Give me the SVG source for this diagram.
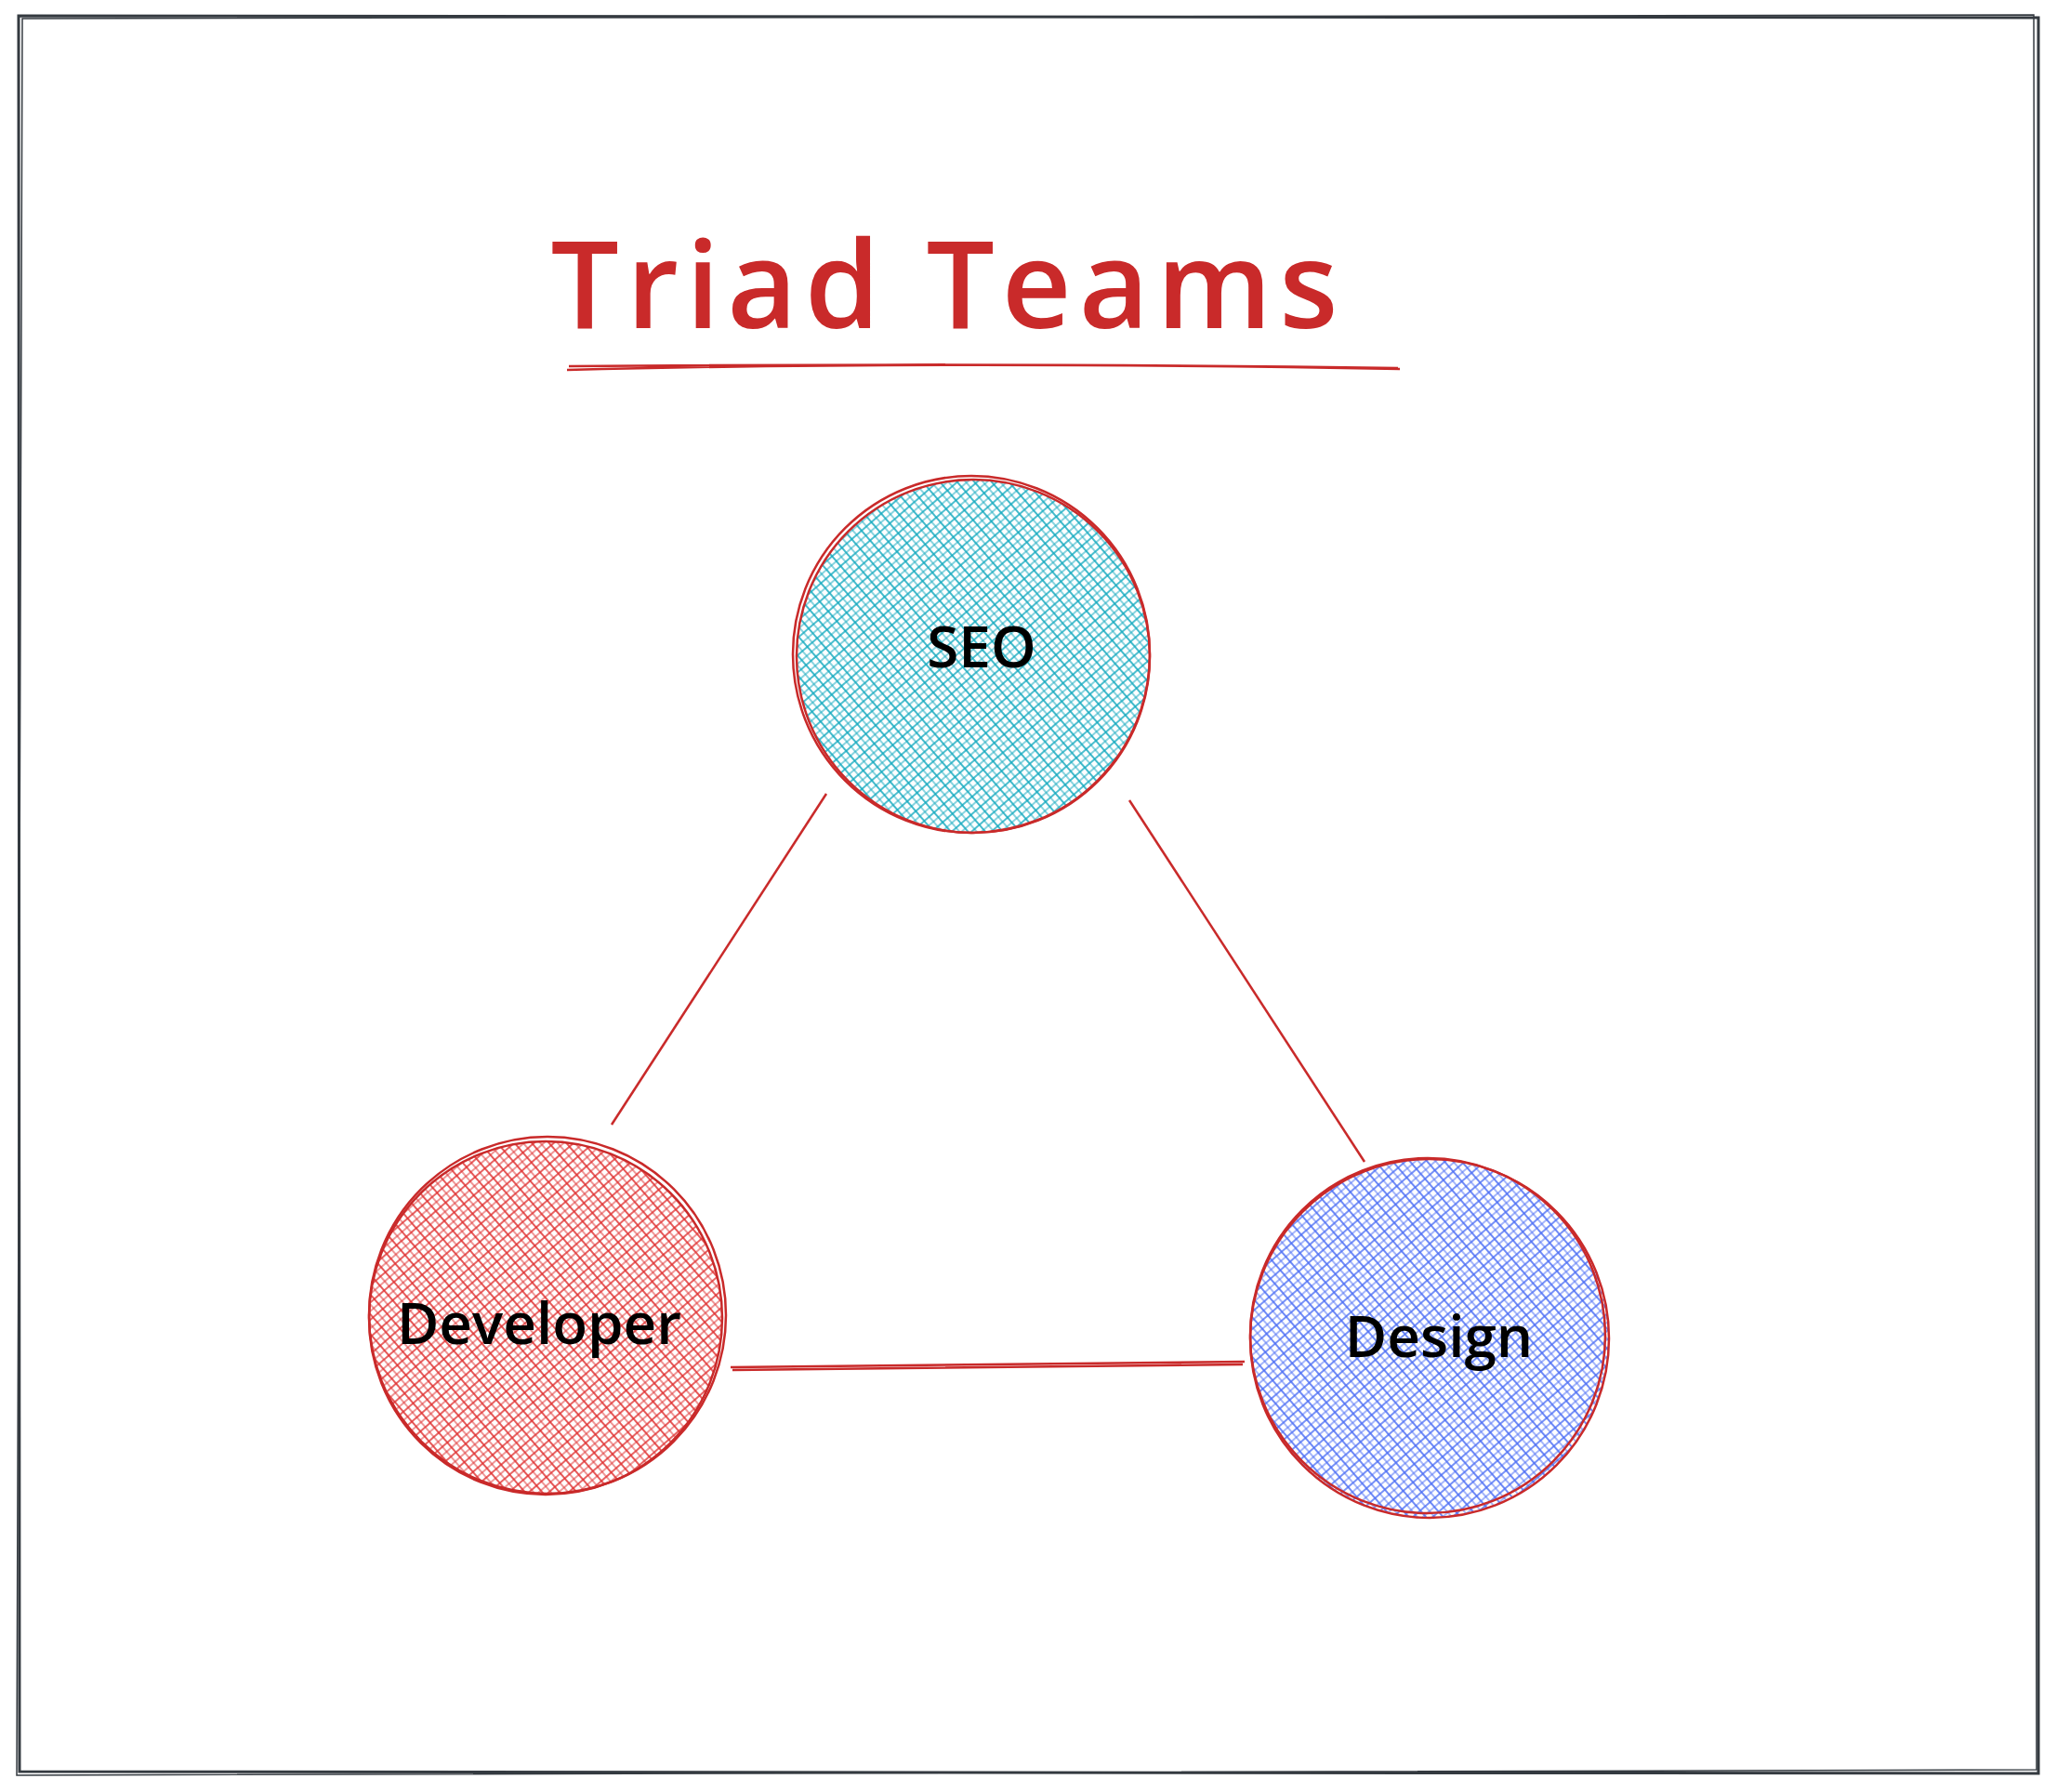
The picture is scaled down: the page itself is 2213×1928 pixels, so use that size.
<svg xmlns="http://www.w3.org/2000/svg" width="2213" height="1928" viewBox="0 0 2213 1928">
<style>
.lbl{font-family:"Open Sans","Liberation Sans",sans-serif;font-size:62px;font-weight:600;fill:#000;text-anchor:middle;dominant-baseline:central}
.ring{stroke:#c92a2a;stroke-width:2.5}
.conn{stroke:#c92a2a;stroke-width:2.5;fill:none}
</style>
<defs>
<pattern id="hT" width="14" height="14" patternUnits="userSpaceOnUse" patternTransform="rotate(-41)"><rect width="14" height="14" fill="#fff"/><path d="M0 3H14M3 0V14" stroke="#15aabf" stroke-width="1.6"/><path d="M0 10H14M10 0V14" stroke="#15aabf" stroke-width="1"/></pattern>
<pattern id="hR" width="14" height="14" patternUnits="userSpaceOnUse" patternTransform="rotate(-41)"><rect width="14" height="14" fill="#fff"/><path d="M0 3H14M3 0V14" stroke="#e03131" stroke-width="1.6"/><path d="M0 10H14M10 0V14" stroke="#e03131" stroke-width="1"/></pattern>
<pattern id="hB" width="14" height="14" patternUnits="userSpaceOnUse" patternTransform="rotate(-41)"><rect width="14" height="14" fill="#fff"/><path d="M0 3H14M3 0V14" stroke="#4c6ef5" stroke-width="1.6"/><path d="M0 10H14M10 0V14" stroke="#4c6ef5" stroke-width="1"/></pattern>
</defs>
<rect width="2213" height="1928" fill="#fff"/>
<g id="frame" fill="none" stroke="#343a40" stroke-width="3">
<path d="M20 17L2193 19L2193 1908L21 1906Z"/>
<path d="M24 20L2188 16L2191 1904L18 1910Z" stroke-width="1.5"/>
</g>
<g id="title">
<text x="1020" y="353" font-family="Open Sans,Liberation Sans,sans-serif" font-size="130" font-weight="600" letter-spacing="8" fill="#c92a2a" text-anchor="middle">Triad Teams</text>
<path d="M610 398Q1000 388 1506 397M612 394Q1100 390 1504 396" stroke="#c92a2a" stroke-width="2.5" fill="none"/>
</g>
<g id="connectors">
<path class="conn" d="M889 854L658 1210"/>
<path class="conn" d="M1215 861L1468 1250"/>
<path class="conn" d="M786 1471L1339 1465M788 1474L1337 1468"/>
</g>
<g id="seo"><circle cx="1047" cy="706" r="190" fill="url(#hT)" class="ring"/><circle cx="1045" cy="704" r="192" fill="none" class="ring" stroke-width="1.2"/><text class="lbl" x="1056" y="694">SEO</text></g>
<g id="developer"><circle cx="587" cy="1418" r="190" fill="url(#hR)" class="ring"/><circle cx="589" cy="1415" r="192" fill="none" class="ring" stroke-width="1.2"/><text class="lbl" x="580" y="1422">Developer</text></g>
<g id="design"><circle cx="1538" cy="1440" r="193" fill="url(#hB)" class="ring"/><circle cx="1536" cy="1437" r="191" fill="none" class="ring" stroke-width="1.2"/><text class="lbl" x="1548" y="1436">Design</text></g>
</svg>
